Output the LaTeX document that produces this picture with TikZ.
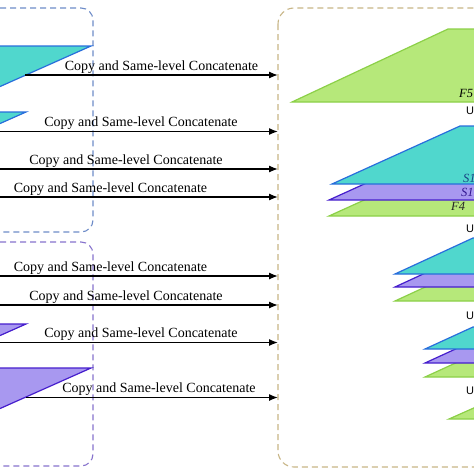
\documentclass[tikz,border=0pt]{standalone}
\usepackage{fontspec}
\setmainfont{Liberation Serif}
\setsansfont{Liberation Sans}
\usetikzlibrary{arrows.meta}
\definecolor{cyanfill}{RGB}{80,215,205}
\definecolor{cyanline}{RGB}{40,110,220}
\definecolor{purpfill}{RGB}{168,152,240}
\definecolor{purpline}{RGB}{70,30,205}
\definecolor{grnfill}{RGB}{182,232,122}
\definecolor{grnline}{RGB}{140,208,72}
\definecolor{bluebox}{RGB}{110,140,200}
\definecolor{purpbox}{RGB}{135,115,205}
\definecolor{goldbox}{RGB}{200,182,135}
\tikzset{
  cyanshape/.style={fill=cyanfill,draw=cyanline,line width=1.2pt,line join=miter},
  purpshape/.style={fill=purpfill,draw=purpline,line width=1.2pt,line join=miter},
  grnshape/.style={fill=grnfill,draw=grnline,line width=1.2pt,line join=miter},
  groupbox/.style={dashed,dash pattern=on 6pt off 4pt,line width=1.1pt,rounded corners=12pt},
  flow/.style={-{Latex[length=9pt,width=7pt]},line width=1.3pt,black},
  flowlabel/.style={anchor=base,inner sep=0pt,font=\fontsize{14}{16}\selectfont},
  featlabel/.style={inner sep=0pt,font=\fontsize{12.5}{14}\selectfont\itshape},
  uplabel/.style={anchor=base west,inner sep=0pt,font=\sffamily\fontsize{11}{13}\selectfont}
}
\begin{document}
\begin{tikzpicture}[x=1pt,y=-1pt]
\useasboundingbox (0,0) rectangle (474,474);
\clip (0,0) rectangle (474,474);
\fill[white] (0,0) rectangle (474,474);

% group boxes
\draw[groupbox,draw=bluebox] (-40,8) rectangle (93,232);
\draw[groupbox,draw=purpbox] (-40,242) rectangle (93,466);
\draw[groupbox,draw=goldbox,rounded corners=16pt] (278,8) rectangle (560,467);

% left shapes
\path[cyanshape] (-10,46) -- (91,46) -- (-10,91) -- cycle;
\path[cyanshape] (-10,112) -- (26,112) -- (-10,128) -- cycle;
\path[purpshape] (-10,324) -- (26,324) -- (-10,340) -- cycle;
\path[purpshape] (-10,368) -- (91,368) -- (-10,413) -- cycle;

% right shapes: group 1
\path[grnshape] (292,102) -- (448,29) -- (520,29) -- (520,102) -- cycle;
\node[featlabel,anchor=base west] (f5) at (459,97) {F5};
\node[uplabel] (u1) at (466,114) {U};
% group 2
\path[grnshape] (329,216) -- (457,158) -- (520,158) -- (520,216) -- cycle;
\path[purpshape] (329,200) -- (457,142) -- (520,142) -- (520,200) -- cycle;
\path[cyanshape] (332,184) -- (460,126) -- (520,126) -- (520,184) -- cycle;
\node[featlabel,anchor=base west,text=cyanline!60!black] (s1a) at (463,182) {S1};
\node[featlabel,anchor=base west,text=purpline!70!black] (s1b) at (461,196) {S1};
\node[featlabel,anchor=base west,text=black!85] (f4) at (451,210) {F4};
\node[uplabel] (u2) at (466,232) {U};
% group 3
\path[grnshape] (395,301) -- (473,265) -- (520,265) -- (520,301) -- cycle;
\path[purpshape] (395,287) -- (473,251) -- (520,251) -- (520,287) -- cycle;
\path[cyanshape] (395,274) -- (473,238) -- (520,238) -- (520,274) -- cycle;
\node[uplabel] (u3) at (466,319) {U};
% group 4
\path[grnshape] (425,377) -- (473,355) -- (520,355) -- (520,377) -- cycle;
\path[purpshape] (425,363) -- (473,341) -- (520,341) -- (520,363) -- cycle;
\path[cyanshape] (425,349) -- (473,327) -- (520,327) -- (520,349) -- cycle;
\node[uplabel] (u4) at (466,394) {U};
% group 5
\path[grnshape] (449,419) -- (476,407) -- (520,407) -- (520,419) -- cycle;

% connector endpoints
\coordinate (a1) at (25,75);   \coordinate (b1) at (278,75);
\coordinate (a2) at (-5,131.5); \coordinate (b2) at (278,131.5);
\coordinate (a3) at (-5,169);  \coordinate (b3) at (278,169);
\coordinate (a4) at (-5,197);  \coordinate (b4) at (278,197);
\coordinate (a5) at (-5,276);  \coordinate (b5) at (278,276);
\coordinate (a6) at (-5,305);  \coordinate (b6) at (278,305);
\coordinate (a7) at (-5,342.5); \coordinate (b7) at (278,342.5);
\coordinate (a8) at (26,397.5); \coordinate (b8) at (278,397.5);

\foreach \i in {1,...,8} { \draw[flow] (a\i) -- (b\i); }

\node[flowlabel] (t1) at (161.5,70) {Copy and Same-level Concatenate};
\node[flowlabel] (t2) at (141,126.5) {Copy and Same-level Concatenate};
\node[flowlabel] (t3) at (126,164) {Copy and Same-level Concatenate};
\node[flowlabel] (t4) at (110.5,192) {Copy and Same-level Concatenate};
\node[flowlabel] (t5) at (110.5,271) {Copy and Same-level Concatenate};
\node[flowlabel] (t6) at (126,300) {Copy and Same-level Concatenate};
\node[flowlabel] (t7) at (141,337.5) {Copy and Same-level Concatenate};
\node[flowlabel] (t8) at (159,392.5) {Copy and Same-level Concatenate};
\end{tikzpicture}
\end{document}
